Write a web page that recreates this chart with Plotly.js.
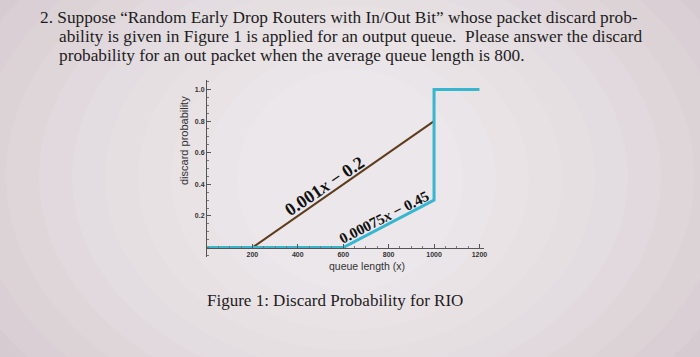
<!DOCTYPE html>
<html><head><meta charset="utf-8">
<script src="https://cdn.plot.ly/plotly-3.0.1.min.js"></script>
<style>html,body{margin:0;padding:0;background:#ddd5d8;}</style>
</head><body>
<div id="chart" style="width:700px;height:357px;"></div>
<script>
// Data
const inQueue = [0, 200, 1000];
const inProb = [0, 0, 0.8];
const outQueue = [0, 600, 1000, 1000, 1200];
const outProb = [0, 0, 0.3, 1.0, 1.0];
const xTickVals = [200, 400, 600, 800, 1000, 1200];
const xTickText = ['200', '400', '600', '800', '1000', '1200'];
const yTickVals = [0.2, 0.4, 0.6, 0.8, 1.0];
const yTickText = ['0.2', '0.4', '0.6', '0.8', '1.0'];
const questionLines = [
  '2. Suppose \u201cRandom Early Drop Routers with In/Out Bit\u201d whose packet discard prob-',
  'ability is given in Figure 1 is applied for an output queue.  Please answer the discard',
  'probability for an out packet when the average queue length is 800.'
];
const caption = 'Figure 1: Discard Probability for RIO';
const label1 = '0.001<i>x</i> \u2212 0.2';
const label2 = '0.00075<i>x</i> \u2212 0.45';

// geometry helpers (pixel -> paper)
const L = 207, W = 277, T = 80, H = 177;
const px = p => (p - L) / W;
const py = p => (T + H - p) / H;

const traces = [
  {x: inQueue, y: inProb, mode: 'lines', line: {color: '#5e3d1c', width: 2}, hoverinfo: 'skip'},
  {x: outQueue, y: outProb, mode: 'lines', line: {color: '#37b6cf', width: 3}, hoverinfo: 'skip'}
];

const serif = 'Liberation Serif, Times New Roman, serif';
const sans = 'Liberation Sans, Arial, sans-serif';

const annotations = [];
const lineStarts = [38, 57, 57];
const lineY = [17, 36, 55];
questionLines.forEach((t, i) => {
  annotations.push({text: t, xref: 'paper', yref: 'paper', x: px(lineStarts[i]), y: py(lineY[i]),
    xanchor: 'left', yanchor: 'middle', showarrow: false,
    font: {family: serif, size: 17.3, color: '#1e1c1d'}});
});
annotations.push({text: caption, xref: 'paper', yref: 'paper', x: px(335), y: py(300),
  xanchor: 'center', yanchor: 'middle', showarrow: false,
  font: {family: serif, size: 17, color: '#1e1c1d'}});
annotations.push({text: 'discard probability', xref: 'paper', yref: 'paper', x: px(184), y: py(141),
  xanchor: 'center', yanchor: 'middle', textangle: -90, showarrow: false,
  font: {family: sans, size: 11, color: '#333'}});
annotations.push({text: 'queue length (x)', xref: 'paper', yref: 'paper', x: px(367), y: py(266),
  xanchor: 'center', yanchor: 'middle', showarrow: false,
  font: {family: sans, size: 10.5, color: '#333'}});
annotations.push({text: label1, xref: 'x', yref: 'y', x: 518, y: 0.388,
  xanchor: 'center', yanchor: 'middle', textangle: -34, showarrow: false,
  font: {family: serif, size: 18, color: '#111', weight: 'bold'}});
annotations.push({text: label2, xref: 'x', yref: 'y', x: 783, y: 0.19,
  xanchor: 'center', yanchor: 'middle', textangle: -27, showarrow: false,
  font: {family: serif, size: 15, color: '#111', weight: 'bold'}});

// soft lighting of the photographed page
const shapes = [];
for (let i = 0; i < 10; i++) {
  const k = i / 10;
  shapes.push({type: 'circle', xref: 'paper', yref: 'paper', layer: 'below',
    x0: px(-60 + k * 330), x1: px(760 - k * 330),
    y0: py(-120 + k * 210), y1: py(470 - k * 200),
    fillcolor: 'rgba(255,255,255,0.085)', line: {width: 0}});
}

const layout = {
  width: 700, height: 357,
  margin: {l: L, r: 700 - L - W, t: T, b: 357 - T - H},
  paper_bgcolor: '#d6cbd0',
  plot_bgcolor: 'rgba(0,0,0,0)',
  showlegend: false,
  xaxis: {range: [0, 1220], anchor: 'free', position: 0.06 / 1.12,
    showgrid: false, zeroline: false, showline: true, linecolor: '#555', linewidth: 1,
    ticks: 'inside', ticklen: 4, tickcolor: '#555', tickvals: xTickVals, ticktext: xTickText,
    minor: {dtick: 50, ticklen: 2, tickcolor: '#777', ticks: 'inside', showgrid: false},
    tickfont: {family: sans, size: 7, color: '#333', weight: 'bold'}},
  yaxis: {range: [-0.06, 1.06], showgrid: false, zeroline: false, showline: true,
    linecolor: '#555', linewidth: 1, ticks: 'inside', ticklen: 4, tickcolor: '#555',
    tickvals: yTickVals, ticktext: yTickText,
    minor: {dtick: 0.05, ticklen: 2, tickcolor: '#777', ticks: 'inside', showgrid: false},
    tickfont: {family: sans, size: 7, color: '#333', weight: 'bold'}},
  annotations: annotations,
  shapes: shapes
};

Plotly.newPlot('chart', traces, layout, {staticPlot: true, displayModeBar: false});
</script>
</body></html>
